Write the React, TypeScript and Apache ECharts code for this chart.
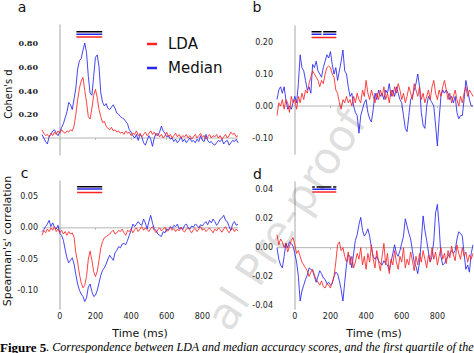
import React, { useEffect, useRef } from "react";
import * as echarts from "echarts";

// time axis in ms (10 ms resolution)
const TIME_MS: number[] = Array.from({ length: 111 }, (_, i) => -100 + 10 * i);
const X_TICKS = [0, 200, 400, 600, 800];

// Panel a: Cohen's d
const A_MEDIAN = [
  0.03, 0.00, -0.03, -0.05, 0.01, 0.03, 0.06, 0.07, 0.04, 0.02,
  0.05, 0.09, 0.12, 0.17, 0.22, 0.30, 0.28, 0.24, 0.33, 0.42,
  0.58, 0.65, 0.67, 0.74, 0.80, 0.72, 0.52, 0.38, 0.36, 0.52,
  0.68, 0.70, 0.60, 0.38, 0.30, 0.27, 0.29, 0.25, 0.24, 0.26,
  0.28, 0.25, 0.21, 0.20, 0.18, 0.17, 0.16, 0.14, 0.12, 0.07,
  0.05, 0.02, 0.00, 0.03, -0.02, 0.03, 0.01, -0.04, -0.06, -0.02,
  0.02, -0.01, -0.07, 0.00, 0.04, 0.02, 0.05, 0.10, 0.06, 0.04,
  0.01, 0.02, -0.01, 0.00, -0.03, -0.01, -0.04, -0.02, 0.01, -0.03,
  -0.01, -0.04, -0.02, 0.00, -0.03, -0.02, -0.04, -0.01, -0.03, 0.02,
  -0.02, -0.03, 0.03, -0.02, -0.04, -0.03, -0.05, -0.06, -0.04, -0.02,
  -0.03, -0.01, -0.05, -0.03, -0.02, -0.06, -0.04, -0.02, -0.03, -0.01,
  -0.04,
];
const A_LDA = [
  0.07, 0.04, 0.02, 0.03, 0.01, 0.04, 0.02, 0.05, 0.03, 0.06,
  0.04, 0.07, 0.05, 0.04, 0.06, 0.05, 0.07, 0.06, 0.10, 0.20,
  0.32, 0.42, 0.48, 0.51, 0.40, 0.30, 0.18, 0.16, 0.25, 0.36,
  0.41, 0.34, 0.24, 0.18, 0.13, 0.14, 0.10, 0.08, 0.07, 0.09,
  0.06, 0.07, 0.05, 0.06, 0.04, 0.05, 0.03, 0.06, 0.04, 0.05,
  0.02, 0.04, 0.03, 0.06, 0.02, 0.04, 0.01, 0.03, 0.05, 0.02,
  0.04, 0.06, 0.03, 0.05, 0.02, 0.04, 0.01, 0.03, 0.00, 0.02,
  0.05, 0.01, 0.03, 0.00, 0.02, 0.04, 0.01, 0.03, 0.00, 0.02,
  0.01, 0.03, 0.00, 0.02, -0.01, 0.01, 0.03, 0.00, 0.02, 0.04,
  0.01, 0.02, -0.01, 0.01, 0.03, 0.00, 0.02, 0.01, 0.03, 0.00,
  0.02, -0.01, 0.01, 0.03, 0.00, 0.02, 0.05, 0.03, 0.04, 0.01,
  0.02,
];

// Panel b
const B_MEDIAN = [
  0.02, 0.05, 0.06, 0.04, 0.06, 0.02, -0.01, 0.00, -0.01, 0.01,
  0.03, 0.01, 0.07, 0.16, 0.12, 0.11, 0.08, 0.05, 0.06, 0.04,
  0.13, 0.12, 0.14, 0.11, 0.10, 0.09, 0.12, 0.14, 0.16, 0.15,
  0.17, 0.13, 0.10, 0.12, 0.08, 0.11, 0.14, 0.175, 0.11, 0.10,
  0.06, 0.03, 0.04, 0.00, -0.02, -0.03, -0.085, -0.03, -0.01, 0.01,
  0.02, -0.02, -0.04, -0.05, -0.01, 0.04, 0.02, 0.05, 0.03, 0.04,
  0.02, 0.05, 0.04, 0.07, 0.03, 0.05, 0.03, 0.06, 0.04, 0.02,
  0.01, -0.03, -0.07, -0.08, -0.03, 0.02, 0.03, 0.05, 0.07, 0.10,
  0.06, -0.02, -0.06, -0.07, 0.00, 0.03, 0.02, 0.01, 0.00, -0.06,
  -0.125, -0.04, 0.03, 0.05, 0.04, 0.05, 0.04, 0.02, 0.03, 0.01,
  0.03, -0.02, -0.04, -0.03, -0.03, 0.02, 0.08, 0.05, 0.02, 0.00,
  0.00,
];
const B_LDA = [
  -0.03, 0.01, 0.00, 0.02, -0.01, 0.02, 0.01, -0.02, 0.03, 0.01,
  0.02, -0.01, 0.03, 0.01, 0.04, 0.02, 0.05, 0.04, 0.07, 0.09,
  0.11, 0.10, 0.09, 0.08, 0.06, 0.08, 0.07, 0.10, 0.12, 0.125,
  0.12, 0.10, 0.09, 0.05, 0.04, 0.01, -0.01, 0.02, 0.01, 0.03,
  0.01, 0.02, 0.00, 0.03, 0.01, 0.04, 0.02, 0.01, 0.05, 0.03,
  0.08, 0.04, 0.02, 0.05, 0.03, 0.01, 0.04, 0.02, 0.05, 0.03,
  0.06, 0.02, 0.04, 0.01, 0.05, 0.03, 0.06, 0.04, 0.07, 0.05,
  0.02, 0.04, 0.01, 0.03, 0.06, 0.04, 0.02, 0.07, 0.05, 0.03,
  0.06, 0.02, 0.04, 0.01, 0.03, 0.05, 0.02, 0.06, 0.08, 0.04,
  0.02, 0.05, 0.03, 0.06, 0.08, 0.05, 0.02, 0.04, 0.01, 0.03,
  0.05, 0.02, 0.00, 0.03, 0.01, 0.04, 0.06, 0.03, 0.05, 0.04,
  0.03,
];

// Panel c: Spearman's correlation
const C_MEDIAN = [
  -0.006, -0.003, 0.002, 0.006, 0.012, 0.002, 0.008, 0.001, -0.002, 0.004,
  -0.009, -0.012, -0.020, -0.035, -0.048, -0.056, -0.052, -0.048, -0.058, -0.075,
  -0.090, -0.100, -0.106, -0.110, -0.118, -0.112, -0.095, -0.090, -0.102, -0.110,
  -0.108, -0.100, -0.088, -0.076, -0.068, -0.064, -0.058, -0.050, -0.044, -0.048,
  -0.052, -0.040, -0.036, -0.030, -0.032, -0.026, -0.025, -0.027, -0.020, -0.012,
  -0.004, 0.006, 0.002, 0.006, 0.010, 0.006, 0.004, 0.014, 0.008, -0.002,
  0.010, 0.020, 0.008, -0.002, -0.004, -0.010, -0.012, -0.014, -0.006, -0.008,
  -0.002, -0.004, 0.002, -0.001, 0.004, 0.002, 0.006, -0.002, 0.001, -0.003,
  0.004, 0.006, 0.001, -0.002, 0.003, 0.001, 0.006, 0.004, 0.000, 0.005,
  0.003, 0.007, 0.010, 0.005, 0.012, 0.008, 0.014, 0.010, 0.004, 0.008,
  0.014, 0.016, 0.020, 0.012, 0.010, 0.002, -0.004, 0.006, 0.010, 0.004,
  0.006,
];
const C_LDA = [
  -0.012, -0.004, -0.008, -0.002, -0.006, 0.000, -0.004, 0.002, -0.006, -0.002,
  -0.008, -0.004, -0.010, -0.006, -0.012, -0.006, -0.010, -0.008, -0.015, -0.040,
  -0.055, -0.074, -0.088, -0.096, -0.092, -0.078, -0.050, -0.037, -0.052, -0.070,
  -0.078, -0.070, -0.052, -0.032, -0.022, -0.016, -0.014, -0.012, -0.010, -0.006,
  -0.004, -0.010, -0.008, -0.004, -0.006, -0.002, -0.008, -0.012, -0.004, -0.006,
  -0.002, -0.008, -0.003, 0.000, -0.006, -0.002, 0.002, -0.004, 0.000, -0.003,
  -0.006, -0.001, 0.002, -0.004, -0.008, -0.003, 0.000, -0.005, -0.002, 0.001,
  -0.006, -0.003, 0.001, -0.004, -0.001, -0.006, -0.002, -0.005, 0.001, -0.004,
  -0.007, -0.002, 0.000, -0.004, -0.008, -0.003, -0.001, -0.006, -0.002, 0.002,
  -0.004, -0.001, -0.006, -0.003, 0.000, -0.004, -0.008, -0.002, -0.005, 0.000,
  -0.003, -0.007, -0.002, 0.002, -0.004, -0.008, -0.003, -0.001, -0.006, -0.002,
  -0.005,
];

// Panel d
const D_MEDIAN = [
  0.000, -0.008, -0.012, -0.014, -0.006, 0.003, 0.000, 0.004, 0.003, 0.001,
  -0.004, -0.010, -0.020, -0.037, -0.030, -0.026, -0.022, -0.019, -0.014, -0.015,
  -0.016, -0.020, -0.024, -0.020, -0.016, -0.018, -0.021, -0.022, -0.025, -0.024,
  -0.026, -0.025, -0.020, -0.017, -0.018, -0.023, -0.029, -0.037, -0.024, -0.012,
  -0.005, -0.006, -0.014, -0.004, 0.005, 0.009, 0.016, 0.021, 0.012, 0.008,
  0.010, 0.013, 0.008, 0.000, -0.006, -0.008, -0.006, -0.009, -0.011, -0.012,
  -0.009, -0.011, -0.012, -0.016, -0.010, -0.004, 0.002, -0.004, -0.006, -0.002,
  0.003, 0.008, 0.020, 0.015, 0.010, 0.006, -0.002, -0.010, -0.013, -0.018,
  -0.010, 0.005, 0.022, 0.012, 0.005, -0.003, -0.010, -0.006, 0.005, 0.024,
  0.030, 0.015, -0.006, -0.012, -0.011, -0.008, -0.006, -0.004, -0.002, -0.004,
  -0.002, 0.006, 0.011, 0.010, 0.008, -0.004, -0.015, -0.012, -0.017, -0.004,
  0.002,
];
const D_LDA = [
  0.009, 0.002, 0.006, 0.004, 0.000, 0.003, -0.003, 0.001, 0.005, 0.007,
  0.002, -0.004, -0.002, -0.006, -0.010, -0.012, -0.014, -0.016, -0.020, -0.017,
  -0.015, -0.019, -0.022, -0.024, -0.026, -0.023, -0.027, -0.028, -0.025, -0.026,
  -0.028, -0.024, -0.020, -0.010, 0.002, 0.004, -0.002, 0.000, -0.006, -0.010,
  -0.003, -0.012, -0.006, -0.014, -0.010, -0.004, -0.008, 0.000, -0.012, -0.006,
  -0.015, -0.004, -0.010, 0.002, -0.008, -0.014, -0.002, -0.010, -0.016, -0.006,
  0.003, -0.012, -0.004, -0.018, -0.008, -0.012, -0.002, -0.010, -0.015, -0.006,
  -0.010, 0.000, -0.014, -0.008, -0.012, -0.003, -0.009, -0.016, -0.006, -0.012,
  -0.004, -0.010, -0.002, -0.008, -0.014, -0.005, -0.010, 0.000, -0.008, -0.003,
  -0.012, -0.006, 0.000, -0.008, -0.004, -0.011, -0.002, -0.007, 0.001, -0.005,
  -0.009, 0.002, -0.004, -0.008, 0.000, -0.006, -0.003, -0.010, -0.005, -0.008,
  -0.004,
];

// significance intervals (ms) : black, blue (Median), red (LDA)
const A_SIG_BLACK = [[93, 238]];
const A_SIG_BLUE = [[93, 238]];
const A_SIG_RED = [[93, 238]];
const B_SIG_BLACK = [[94, 150], [159, 233]];
const B_SIG_BLUE = [[94, 150], [159, 233]];
const B_SIG_RED = [[94, 233]];
const C_SIG_BLACK = [[97, 238]];
const C_SIG_BLUE = [[97, 238]];
const C_SIG_RED = [[97, 238]];
const D_SIG_BLACK = [[98, 112], [122, 205], [215, 233]];
const D_SIG_BLUE = [[98, 233]];
const D_SIG_RED = [[98, 233]];

const A_TICKS = [0, 0.2, 0.4, 0.6, 0.8];
const B_TICKS = [-0.1, 0, 0.1, 0.2];
const C_TICKS = [-0.1, -0.05, 0, 0.05];
const D_TICKS = [-0.04, -0.02, 0, 0.02, 0.04];

const RED = "#ff2424";
const BLUE = "#2626f0";

type Panel = {
  grid: { left: number; top: number; width: number; height: number };
  ymin: number;
  ymax: number;
  ticks: number[];
  median: number[];
  lda: number[];
  sig: { segs: number[][]; y: number; color: string }[];
  xlabels: boolean;
  labelFont: { family: string; weight: string };
};

export default function App() {
  const ref = useRef<HTMLDivElement>(null);
  useEffect(() => {
    const chart = echarts.init(ref.current!, null, { renderer: "svg" });

    const panels: Panel[] = [
      {
        grid: { left: 42, top: 25, width: 196, height: 130 },
        ymin: -0.143, ymax: 0.952, ticks: A_TICKS, median: A_MEDIAN, lda: A_LDA,
        sig: [
          { segs: A_SIG_BLACK, y: 0.895, color: "#000" },
          { segs: A_SIG_BLUE, y: 0.874, color: BLUE },
          { segs: A_SIG_RED, y: 0.851, color: RED },
        ],
        xlabels: false,
        labelFont: { family: "DejaVu Serif", weight: "bold" },
      },
      {
        grid: { left: 277, top: 26, width: 196, height: 128 },
        ymin: -0.15, ymax: 0.25, ticks: B_TICKS, median: B_MEDIAN, lda: B_LDA,
        sig: [
          { segs: B_SIG_BLACK, y: 0.232, color: "#000" },
          { segs: B_SIG_BLUE, y: 0.224, color: BLUE },
          { segs: B_SIG_RED, y: 0.214, color: RED },
        ],
        xlabels: false,
        labelFont: { family: "DejaVu Sans", weight: "normal" },
      },
      {
        grid: { left: 42, top: 181, width: 196, height: 128 },
        ymin: -0.13, ymax: 0.075, ticks: C_TICKS, median: C_MEDIAN, lda: C_LDA,
        sig: [
          { segs: C_SIG_BLACK, y: 0.0657, color: "#000" },
          { segs: C_SIG_BLUE, y: 0.062, color: BLUE },
          { segs: C_SIG_RED, y: 0.0567, color: RED },
        ],
        xlabels: true,
        labelFont: { family: "DejaVu Sans", weight: "normal" },
      },
      {
        grid: { left: 277, top: 182, width: 196, height: 127 },
        ymin: -0.0425, ymax: 0.0455, ticks: D_TICKS, median: D_MEDIAN, lda: D_LDA,
        sig: [
          { segs: D_SIG_BLACK, y: 0.0421, color: "#000" },
          { segs: D_SIG_BLUE, y: 0.0405, color: BLUE },
          { segs: D_SIG_RED, y: 0.0386, color: RED },
        ],
        xlabels: true,
        labelFont: { family: "DejaVu Sans", weight: "normal" },
      },
    ];

    const grids: any[] = [];
    const xAxes: any[] = [];
    const yAxes: any[] = [];
    const series: any[] = [];

    panels.forEach((p, i) => {
      grids.push({ ...p.grid, containLabel: false });
      xAxes.push({
        type: "value",
        gridIndex: i,
        min: -100,
        max: 1000,
        axisLine: { show: false },
        splitLine: { show: false },
        axisTick: {
          show: true,
          length: 2,
          customValues: X_TICKS,
          lineStyle: { color: "#b8b8b8", width: 1 },
        },
        axisLabel: {
          show: p.xlabels,
          customValues: X_TICKS,
          fontSize: 8,
          fontFamily: "DejaVu Sans",
          color: "#222",
          margin: 3,
        },
      });
      yAxes.push({
        type: "value",
        gridIndex: i,
        min: p.ymin,
        max: p.ymax,
        axisLine: { show: true, lineStyle: { color: "#c4c4c4", width: 1.5 } },
        axisTick: { show: false },
        splitLine: { show: false },
        axisLabel: {
          customValues: p.ticks,
          fontSize: 8,
          fontFamily: p.labelFont.family,
          fontWeight: p.labelFont.weight,
          color: "#222",
          margin: 4,
          formatter: (v: number) => v.toFixed(2),
        },
      });
      series.push({
        type: "line",
        xAxisIndex: i,
        yAxisIndex: i,
        data: [[-100, 0], [1000, 0]],
        symbol: "none",
        silent: true,
        lineStyle: { color: "#b4b4b4", width: 1 },
        z: 1,
      });
      series.push({
        type: "line",
        name: "Median",
        xAxisIndex: i,
        yAxisIndex: i,
        data: TIME_MS.map((t, k) => [t, p.median[k]]),
        symbol: "none",
        lineStyle: { color: BLUE, width: 1, opacity: 0.85 },
        z: 2,
      });
      series.push({
        type: "line",
        name: "LDA",
        xAxisIndex: i,
        yAxisIndex: i,
        data: TIME_MS.map((t, k) => [t, p.lda[k]]),
        symbol: "none",
        lineStyle: { color: RED, width: 1, opacity: 0.85 },
        z: 3,
      });
      p.sig.forEach((s) => {
        s.segs.forEach((seg) => {
          series.push({
            type: "line",
            xAxisIndex: i,
            yAxisIndex: i,
            data: [[seg[0], s.y], [seg[1], s.y]],
            symbol: "none",
            silent: true,
            lineStyle: { color: s.color, width: 1.5 },
            z: 5,
          });
        });
      });
    });

    const sans = "DejaVu Sans";
    const graphic: any[] = [
      { type: "text", x: 22, y: 7, style: { text: "a", font: `14px ${sans}`, fill: "#111", align: "center", verticalAlign: "middle" } },
      { type: "text", x: 257, y: 7, style: { text: "b", font: `14px ${sans}`, fill: "#111", align: "center", verticalAlign: "middle" } },
      { type: "text", x: 24.5, y: 173, style: { text: "c", font: `14px ${sans}`, fill: "#111", align: "center", verticalAlign: "middle" } },
      { type: "text", x: 257.5, y: 174, style: { text: "d", font: `14px ${sans}`, fill: "#111", align: "center", verticalAlign: "middle" } },
      { type: "text", x: 8, y: 94, rotation: Math.PI / 2, style: { text: "Cohen's d", font: `10px ${sans}`, fill: "#111", align: "center", verticalAlign: "middle" } },
      { type: "text", x: 7, y: 241, rotation: Math.PI / 2, style: { text: "Spearman's' correlation", font: `11px ${sans}`, fill: "#111", align: "center", verticalAlign: "middle" } },
      { type: "text", x: 140, y: 333, style: { text: "Time (ms)", font: `11px ${sans}`, fill: "#111", align: "center", verticalAlign: "middle" } },
      { type: "text", x: 374, y: 333, style: { text: "Time (ms)", font: `11px ${sans}`, fill: "#111", align: "center", verticalAlign: "middle" } },
      // legend
      { type: "line", shape: { x1: 147, y1: 44, x2: 157, y2: 44 }, style: { stroke: RED, lineWidth: 2.5 } },
      { type: "text", x: 168, y: 44, style: { text: "LDA", font: `15px ${sans}`, fill: "#111", align: "left", verticalAlign: "middle" } },
      { type: "line", shape: { x1: 147, y1: 68, x2: 157, y2: 68 }, style: { stroke: BLUE, lineWidth: 2.5 } },
      { type: "text", x: 168, y: 68, style: { text: "Median", font: `15px ${sans}`, fill: "#111", align: "left", verticalAlign: "middle" } },
      // caption
      {
        type: "text",
        x: 0,
        y: 347,
        style: {
          text: "{b|Figure 5}{i|. Correspondence between LDA and median accuracy scores, and the first quartile of the}",
          align: "left",
          verticalAlign: "middle",
          rich: {
            b: { fontFamily: "Liberation Serif", fontSize: 13, fontWeight: "bold", fill: "#000" },
            i: { fontFamily: "Liberation Serif", fontSize: 12, fontStyle: "italic", fill: "#000" },
          },
        },
      },
      // watermark (visible part of the diagonal "Journal Pre-proof" stamp)
      {
        type: "text",
        x: 286,
        y: 219,
        rotation: (57 * Math.PI) / 180,
        z: 100,
        silent: true,
        style: { text: "al Pre-proof", font: `44px ${sans}`, fill: "rgba(0,0,0,0.15)", align: "center", verticalAlign: "middle" },
      },
    ];

    chart.setOption({
      animation: false,
      grid: grids,
      xAxis: xAxes,
      yAxis: yAxes,
      series,
      graphic,
    });
    return () => chart.dispose();
  }, []);
  return <div ref={ref} style={{ position: "absolute", left: 0, top: 0, width: 474, height: 353 }} />;
}
